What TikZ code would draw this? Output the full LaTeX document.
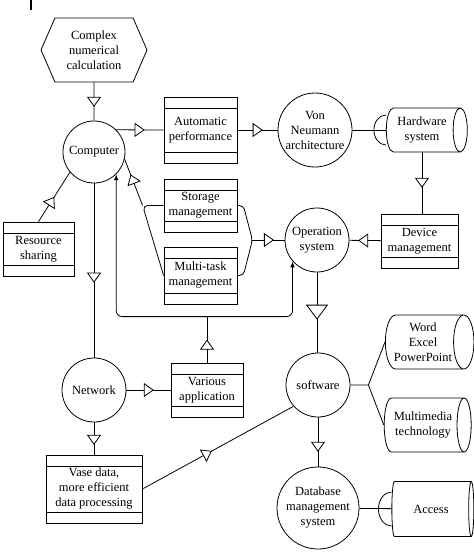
\documentclass[tikz,border=0pt]{standalone}
\usepackage{fontspec}
\setmainfont{Liberation Serif}
\usepackage{tikz}
\usetikzlibrary{positioning,shapes.geometric,shapes.symbols,arrows.meta,decorations.markings,calc}

\begin{document}
\begin{tikzpicture}[
      node distance=100pt,
      line width=0.8pt,
      every node/.style={align=center, inner sep=1pt, font=\fontsize{12.5}{15}\selectfont},
      circ/.style={draw, circle, inner sep=0pt},
      funcbox/.style={draw, rectangle, minimum width=73pt, minimum height=54pt,
                      path picture={\draw
                        ([yshift=-11pt]path picture bounding box.north west) -- ([yshift=-11pt]path picture bounding box.north east)
                        ([yshift=11pt]path picture bounding box.south west) -- ([yshift=11pt]path picture bounding box.south east);}},
      store/.style={draw, cylinder, shape aspect=0.5, minimum height=87pt, minimum width=54pt},
      hexbox/.style={draw, signal, signal to=west and east, signal pointer angle=133,
                     minimum width=106pt, minimum height=64pt},
      tri/.style={postaction={decorate}, decoration={markings,
                  mark=at position #1 with {\arrow{Triangle[fill=white, length=10pt, width=14pt]}}}},
      bigtri/.style={postaction={decorate}, decoration={markings,
                  mark=at position #1 with {\arrow{Triangle[fill=white, length=15pt, width=22pt]}}}}
    ]
      \useasboundingbox (0,0) rectangle (474pt,-552pt);
      \draw[line width=1.5pt] (31pt,0) -- (31pt,-10pt);
      \node (calc) [hexbox] at (94pt,-50pt) {Complex\\numerical\\calculation};
      \node (computer)   [circ, minimum size=62pt, below of=calc, yshift=-2pt] {Computer};
      \node (autoperf)   [funcbox, minimum height=66pt, right of=computer, xshift=6.5pt, yshift=22pt] {Automatic\\performance};
      \node (vonneumann) [circ, minimum size=74pt, right of=autoperf, xshift=14.5pt] {Von\\Neumann\\architecture};
      \node (hardware)   [store, minimum height=81pt, minimum width=44pt, right of=vonneumann, xshift=7pt] {Hardware\\system};
      \node (device)     [funcbox, minimum width=77pt, below of=hardware, xshift=-2.5pt, yshift=-11pt] {Device\\management};
      \node (opsys)      [circ, minimum size=64pt, left of=device, xshift=-2.5pt, yshift=1pt] {Operation\\system};
      \node (storage)    [funcbox, minimum height=53pt, below of=autoperf, yshift=24.5pt] {Storage\\management};
      \node (multitask)  [funcbox, minimum height=57pt, below of=storage, yshift=30pt] {Multi-task\\management};
      \node (resource)   [funcbox, minimum width=71pt, below of=computer, xshift=-55.5pt, yshift=3pt] {Resource\\sharing};
      \node (network)    [circ, minimum size=64pt, below of=computer, yshift=-138pt] {Network};
      \node (various)    [funcbox, minimum width=72pt, right of=network, xshift=13pt] {Various\\application};
      \node (vase)       [funcbox, minimum width=96pt, minimum height=68pt, below of=network, yshift=1pt] {Vase data,\\more efficient\\data processing};
      \node (software)   [circ, minimum size=64pt, below of=opsys, xshift=1pt, yshift=-45pt] {software};
      \node (office)     [store, right of=software, xshift=5pt, yshift=43pt] {Word\\Excel\\PowerPoint};
      \node (multimedia) [store, below of=office, yshift=17pt] {Multimedia\\technology};
      \node (database)   [circ, minimum size=82pt, below of=software, yshift=-23pt] {Database\\management\\system};
      \node (access)     [store, minimum height=82pt, minimum width=55pt, right of=database, xshift=13pt, yshift=-1pt] {Access};

      \coordinate (lbrace) at ([xshift=-21pt]storage.west);
      \coordinate (rbrace) at ($(storage.east |- opsys.west)+(15pt,0)$);
      \coordinate (loop)   at ($(various.north)+(0,46pt)$);
      \coordinate (swfork) at ([xshift=18pt]software.east);

      \draw[tri=0.64] (calc) -- (computer);
      \draw[tri=0.6]  (computer.45) -- (autoperf.west);
      \draw[tri=0.63] (autoperf) -- (vonneumann);
      \draw (vonneumann) -- (hardware);
      \draw ([yshift=15pt]hardware.west) arc[start angle=90, end angle=270, x radius=12pt, y radius=15pt];
      \draw[tri=0.58] (hardware.south) -- (hardware.south |- device.north);
      \draw[tri=0.72] (device) -- (opsys);
      \draw[rounded corners=5pt] (storage.west) -- (lbrace) -- (multitask.west);
      \draw[tri=0.67] (lbrace) -- (computer.-13);
      \draw[rounded corners=4pt] (storage.east) -- ++(6pt,0) -- (rbrace) -- ([xshift=6pt]multitask.east) -- (multitask.east);
      \draw[tri=0.67] (rbrace) -- (opsys);
      \draw[{Latex[length=6pt]}-{Latex[length=6pt]}, rounded corners=6pt]
        (computer.-45) -- (computer.-45 |- loop) -- (opsys.-139 |- loop) -- (opsys.-139);
      \draw[tri=0.5] (various) -- (various |- loop);
      \draw[bigtri=0.59] (opsys.south) -- (opsys.south |- software.north);
      \draw[tri=0.5]  (resource.north) -- (computer.220);
      \draw[tri=0.57] (computer) -- (network);
      \draw[tri=0.62] (network) -- (various);
      \draw[tri=0.7]  (network) -- (vase);
      \draw[tri=0.46] (vase.east) -- (software.221);
      \draw (software) -- (swfork) -- (office.west);
      \draw (swfork) -- (multimedia.west);
      \draw[tri=0.7] (software) -- (database);
      \draw (database) -- (access);
      \draw ([yshift=17pt]access.west) arc[start angle=90, end angle=270, x radius=13pt, y radius=17pt];
    \end{tikzpicture}
\end{document}
